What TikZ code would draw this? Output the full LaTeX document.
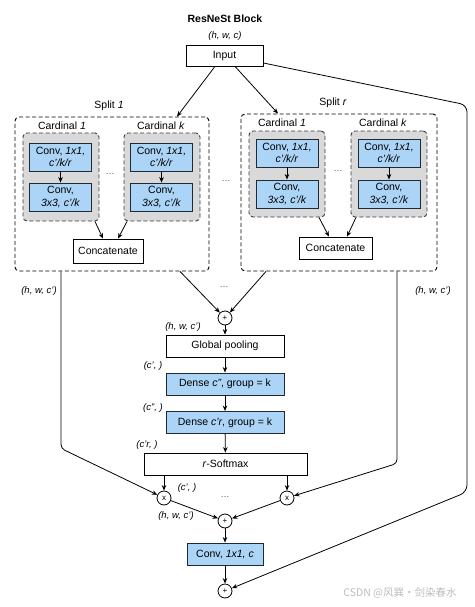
\documentclass[tikz,border=0pt]{standalone}
\usepackage{fontspec}
\setmainfont{Liberation Sans}
\newfontfamily\cjk{Noto Sans CJK SC}
\usetikzlibrary{arrows.meta,calc}
\definecolor{boxblue}{HTML}{ABD4F6}
\definecolor{boxedge}{HTML}{1E2A36}
\definecolor{grpfill}{HTML}{D9D9D9}
\definecolor{grpedge}{HTML}{3A3A3A}
\definecolor{wmark}{HTML}{BDBDBD}
\tikzset{
  box/.style={draw=black, line width=0.8pt, fill=white, inner sep=0pt, align=center, font=\fontsize{10.5}{12.5}\selectfont},
  bluebox/.style={box, fill=boxblue, draw=boxedge, line width=0.9pt},
  grp/.style={draw=grpedge, fill=grpfill, dash pattern=on 4pt off 2.5pt, rounded corners=4pt, line width=0.9pt, inner sep=0pt},
  splitbox/.style={draw=black, dash pattern=on 4pt off 2.5pt, rounded corners=4pt, line width=0.9pt, inner sep=0pt},
  op/.style={circle, draw=black, fill=white, line width=0.8pt, minimum size=14pt, inner sep=0pt, font=\fontsize{8}{8}\selectfont},
  lab/.style={font=\fontsize{9.5}{10}\selectfont\itshape, inner sep=0pt},
  txt/.style={font=\fontsize{10.5}{12}\selectfont, inner sep=0pt},
  dots/.style={font=\fontsize{9}{10}\selectfont, text=black!70, inner sep=0pt},
  arr/.style={-{Stealth[length=5.5pt,width=4.5pt]}, line width=0.8pt},
}
\begin{document}
\begin{tikzpicture}[x=1pt,y=-1pt]
\useasboundingbox (0,0) rectangle (474,607);
% title
\node[txt, font=\bfseries\fontsize{10.5}{12}\selectfont] (title) at (225,19) {ResNeSt Block};
\node[lab] (lin) at (225,36) {(h, w, c)};
\node[box, minimum width=77pt, minimum height=21pt] (in) at (224.5,55.5) {Input};
% split boxes
\node[splitbox, minimum width=194pt, minimum height=154pt] (s1) at (112,194) {};
\node[splitbox, minimum width=196pt, minimum height=157pt] (sr) at (339,192.5) {};
\node[txt] (ls1) at (109,106) {Split \textit{1}};
\node[txt] (lsr) at (333,103) {Split \textit{r}};
\node[txt] (lc11) at (62,126) {Cardinal \textit{1}};
\node[txt] (lc1k) at (161,126) {Cardinal \textit{k}};
\node[txt] (lcr1) at (282,123) {Cardinal \textit{1}};
\node[txt] (lcrk) at (383,123) {Cardinal \textit{k}};
% cardinal groups
\node[grp, minimum width=76pt, minimum height=88pt] (g11) at (61,177) {};
\node[grp, minimum width=76pt, minimum height=88pt] (g1k) at (162,177) {};
\node[grp, minimum width=76pt, minimum height=86pt] (gr1) at (287,174) {};
\node[grp, minimum width=76pt, minimum height=86pt] (grk) at (389,174) {};
% inner convs
\foreach \n/\x/\ya/\yb in {11/60.5/157/197, 1k/161.5/157/197, r1/287/153/194, rk/389/153/194}{
  \node[bluebox, minimum width=62pt, minimum height=28pt] (a\n) at (\x,\ya) {Conv, \textit{1x1,}\\\textit{c'/k/r}};
  \node[bluebox, minimum width=62pt, minimum height=28pt] (b\n) at (\x,\yb) {Conv,\\\textit{3x3, c'/k}};
  \draw[arr] (a\n) -- (b\n);
}
\node[dots] (d1) at (110,174) {\dots};
\node[dots] (d2) at (338,171) {\dots};
\node[dots] (d3) at (226,181) {\dots};
% concatenate
\node[box, minimum width=70pt, minimum height=24pt] (cat1) at (108,251) {Concatenate};
\node[box, minimum width=73pt, minimum height=22pt] (catr) at (335.5,248) {Concatenate};
\draw[arr] ([xshift=34pt]g11.south) -- ([xshift=-5pt]cat1.north);
\draw[arr] ([xshift=-35pt]g1k.south) -- ([xshift=10pt]cat1.north);
\draw[arr] ([xshift=32pt]gr1.south) -- ([xshift=-6.5pt]catr.north);
\draw[arr] ([xshift=-33pt]grk.south) -- ([xshift=11.5pt]catr.north);
% input arrows
\draw[arr] ([xshift=-9.5pt]in.south) -- ([xshift=65pt]s1.north);
\draw[arr] ([xshift=10.5pt]in.south) -- ([xshift=-61pt]sr.north);
% sum of splits
\node[op] (p1) at (225,318) {+};
\node[dots] (d4) at (224,287) {\dots};
\draw[arr] ([xshift=68pt]s1.south) -- (p1);
\draw[arr] ([xshift=-73pt]sr.south) -- (p1);
\node[lab] (l1) at (39,291) {(h, w, c')};
\node[lab] (l2) at (433,291) {(h, w, c')};
% attention column
\node[lab] (l3) at (183,327) {(h, w, c')};
\node[box, minimum width=118pt, minimum height=22pt] (gp) at (225,346) {Global pooling};
\node[lab] (l4) at (153,366) {(c', )};
\node[bluebox, minimum width=118pt, minimum height=22pt] (de1) at (225,384) {Dense \textit{c''}, group = k};
\node[lab] (l5) at (153,408) {(c'', )};
\node[bluebox, minimum width=118pt, minimum height=22pt] (de2) at (225,422.5) {Dense \textit{c'r}, group = k};
\node[lab] (l6) at (147,445) {(c'r, )};
\node[box, minimum width=163pt, minimum height=22pt] (sm) at (225.5,464) {\textit{r}-Softmax};
\node[op] (xl) at (164,498) {x};
\node[op] (xr) at (287,498) {x};
\node[lab] (l7) at (187,488) {(c', )};
\node[dots] (d5) at (225,497) {\dots};
\node[lab] (l8) at (176,516) {(h, w, c')};
\node[op] (p2) at (225,521) {+};
\node[bluebox, minimum width=76pt, minimum height=22pt] (cv) at (225,554) {Conv, \textit{1x1, c}};
\node[op] (p3) at (225,591) {+};
\draw[arr] (p1) -- (gp);
\draw[arr] (gp) -- (de1);
\draw[arr] (de1) -- (de2);
\draw[arr] (de2) -- (sm);
\draw[arr] (sm.south -| xl) -- (xl);
\draw[arr] (sm.south -| xr) -- (xr);
\draw[arr] (xl) -- (p2);
\draw[arr] (xr) -- (p2);
\draw[arr] (p2) -- (cv);
\draw[arr] (cv) -- (p3);
% split paths to multipliers
\draw[arr, rounded corners=4pt] ([xshift=-51pt]s1.south) -- ++(0,177) -- (xl);
\draw[arr, rounded corners=4pt] ([xshift=58pt]sr.south) -- ++(0,192) -- (xr);
% residual
\coordinate (rc1) at (467,105);
\coordinate (rc2) at (467,492);
\draw[arr, rounded corners=7pt] ([yshift=-7.5pt]in.east) -- (rc1) -- (rc2) -- (p3);
% watermark
\node[font=\cjk\fontsize{10.5}{12}\selectfont, text=wmark, inner sep=0pt] (wm) at (400,593) {CSDN @风巽·剑染春水};
\end{tikzpicture}
\end{document}
